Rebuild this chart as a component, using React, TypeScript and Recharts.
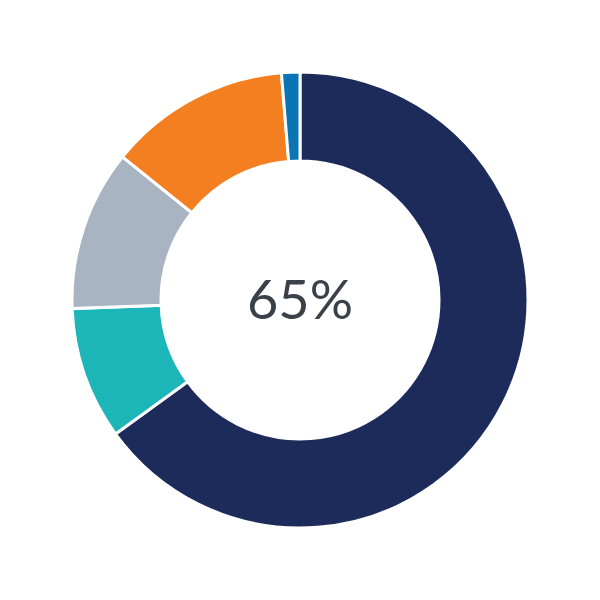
import { Label, Pie, PieChart, Cell } from "recharts";

const categories = ["Navy", "Teal", "Gray", "Orange", "Blue"];
const values = [65, 9.4, 11.4, 12.9, 1.3];
const colors = ["#1c2b5a", "#1cb5b8", "#a9b4c2", "#f47f20", "#0a74b4"];
const centerLabel = "65%";

const data = categories.map((name, i) => ({ name, value: values[i] }));

export default function App() {
    return (
        <div style={{ position: "absolute", left: 0, top: 0, width: 600, height: 600, background: "#fff" }}>
            <PieChart width={600} height={600} margin={{ top: 0, right: 0, bottom: 0, left: 0 }}>
                <Pie
                    data={data}
                    dataKey="value"
                    cx={300}
                    cy={300}
                    innerRadius={139}
                    outerRadius={228}
                    startAngle={90}
                    endAngle={-270}
                    stroke="#fff"
                    strokeWidth={3}
                    isAnimationActive={false}
                >
                    {data.map((d, i) => (
                        <Cell key={d.name} fill={colors[i]} />
                    ))}
                    <Label
                        value={centerLabel}
                        position="center"
                        style={{ fontFamily: "Lato", fontWeight: 400, fontSize: 54, fill: "#3a4149" }}
                    />
                </Pie>
            </PieChart>
        </div>
    );
}
